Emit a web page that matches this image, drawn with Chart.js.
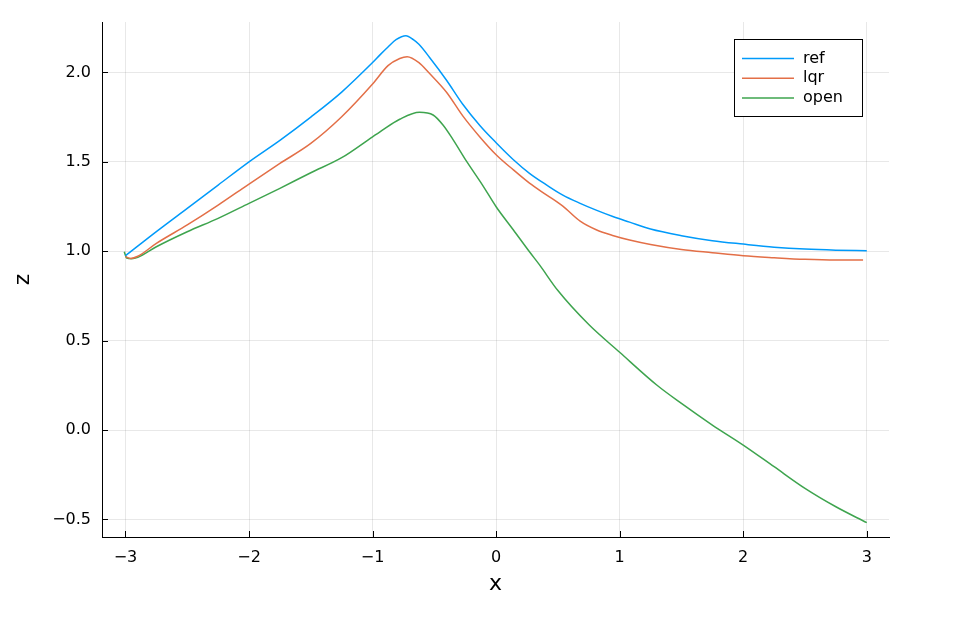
<!DOCTYPE html>
<html>
<head>
<meta charset="utf-8">
<script src="https://cdn.jsdelivr.net/npm/chart.js@4"></script>
<style>
html, body { margin: 0; padding: 0; background: #fff; }
</style>
</head>
<body>
<canvas id="plot" width="955" height="622"></canvas>
<script>
// series
const refX = [-3, -2.75, -2.5, -2.25, -2, -1.75, -1.5, -1.25, -1, -0.94, -0.875, -0.81, -0.73, -0.67, -0.625, -0.54, -0.4, -0.27, -0.13, 0, 0.14, 0.27, 0.41, 0.54, 0.68, 0.81, 0.95, 1.08, 1.25, 1.5, 1.75, 2, 2.25, 2.5, 2.75, 3];
const refY = [0.975, 1.11, 1.24, 1.37, 1.50, 1.62, 1.75, 1.89, 2.055, 2.098, 2.142, 2.183, 2.205, 2.183, 2.157, 2.085, 1.955, 1.822, 1.702, 1.607, 1.512, 1.436, 1.37, 1.314, 1.268, 1.23, 1.193, 1.163, 1.124, 1.087, 1.059, 1.040, 1.023, 1.012, 1.006, 1.003];

const lqrX = [-3, -2.96, -2.9, -2.75, -2.5, -2.25, -2, -1.75, -1.5, -1.25, -1, -0.875, -0.78, -0.72, -0.625, -0.54, -0.4, -0.27, -0.13, 0, 0.14, 0.27, 0.41, 0.54, 0.68, 0.81, 0.95, 1.08, 1.25, 1.5, 1.75, 2, 2.25, 2.5, 2.75, 2.97];
const lqrY = [0.97, 0.96, 0.972, 1.044, 1.147, 1.258, 1.376, 1.491, 1.603, 1.752, 1.935, 2.038, 2.078, 2.088, 2.055, 1.995, 1.888, 1.757, 1.638, 1.540, 1.455, 1.381, 1.314, 1.252, 1.168, 1.120, 1.087, 1.063, 1.038, 1.010, 0.992, 0.975, 0.964, 0.955, 0.951, 0.951];

const openX = [-3.01, -2.99, -2.95, -2.9, -2.75, -2.5, -2.25, -2, -1.75, -1.5, -1.25, -1, -0.94, -0.78, -0.62, -0.51, -0.43, -0.35, -0.24, -0.11, 0, 0.14, 0.27, 0.35, 0.5, 0.75, 1, 1.3, 1.5, 1.75, 2, 2.25, 2.5, 2.75, 3];
const openY = [0.997, 0.962, 0.958, 0.966, 1.025, 1.109, 1.184, 1.268, 1.352, 1.439, 1.523, 1.640, 1.668, 1.738, 1.777, 1.762, 1.706, 1.626, 1.504, 1.370, 1.249, 1.119, 0.997, 0.925, 0.78, 0.59, 0.435, 0.252, 0.149, 0.028, -0.084, -0.205, -0.326, -0.429, -0.518];

const seriesNames = ['ref', 'lqr', 'open'];
const seriesColors = ['#009AFA', '#E36F47', '#3EA44E'];

const xTicks = [-3, -2, -1, 0, 1, 2, 3];
const xTickLabels = ['\u22123', '\u22122', '\u22121', '0', '1', '2', '3'];
const yTicks = [-0.5, 0, 0.5, 1, 1.5, 2];
const yTickLabels = ['\u22120.5', '0.0', '0.5', '1.0', '1.5', '2.0'];

const FONT = 'DejaVu Sans';

function pts(xs, ys) {
    return xs.map((x, i) => ({ x: x, y: ys[i] }));
}

const allSeries = [pts(refX, refY), pts(lqrX, lqrY), pts(openX, openY)];

// small ticks pointing into the plot, like the GR backend
const innerTicks = {
    id: 'innerTicks',
    afterDatasetsDraw(chart) {
        const ctx = chart.ctx;
        const area = chart.chartArea;
        const xs = chart.scales.x, ys = chart.scales.y;
        ctx.save();
        ctx.strokeStyle = '#000';
        ctx.lineWidth = 1;
        ctx.beginPath();
        xTicks.forEach(v => {
            const px = Math.round(xs.getPixelForValue(v)) + 0.5;
            ctx.moveTo(px, area.bottom);
            ctx.lineTo(px, area.bottom - 6);
        });
        yTicks.forEach(v => {
            const py = Math.round(ys.getPixelForValue(v)) + 0.5;
            ctx.moveTo(area.left, py);
            ctx.lineTo(area.left + 6, py);
        });
        ctx.stroke();
        ctx.restore();
    }
};

// boxed legend in the top right corner of the plot
const boxLegend = {
    id: 'boxLegend',
    afterDraw(chart) {
        const ctx = chart.ctx;
        const area = chart.chartArea;
        const w = 128, h = 77;
        const x0 = area.right - 27 - w, y0 = area.top + 17;
        ctx.save();
        ctx.fillStyle = '#fff';
        ctx.fillRect(x0, y0, w, h);
        ctx.strokeStyle = '#000';
        ctx.lineWidth = 1;
        ctx.strokeRect(x0 + 0.5, y0 + 0.5, w, h);
        ctx.font = '16px "' + FONT + '"';
        ctx.textBaseline = 'middle';
        chart.data.datasets.forEach((ds, i) => {
            const cy = y0 + 19.5 + i * 19.7;
            ctx.strokeStyle = ds.borderColor;
            ctx.lineWidth = 1.5;
            ctx.beginPath();
            ctx.moveTo(x0 + 8, cy);
            ctx.lineTo(x0 + 60, cy);
            ctx.stroke();
            ctx.fillStyle = '#000';
            ctx.fillText(ds.label, x0 + 69, cy);
        });
        ctx.restore();
    }
};

const ctx = document.getElementById('plot').getContext('2d');
const plot = new Chart(ctx, {
    type: 'line',
    data: {
        datasets: seriesNames.map((name, i) => ({
            label: name,
            data: allSeries[i],
            borderColor: seriesColors[i],
            backgroundColor: seriesColors[i],
            borderWidth: 1.5,
            pointRadius: 0,
            fill: false,
            cubicInterpolationMode: 'monotone'
        }))
    },
    options: {
        responsive: false,
        animation: false,
        layout: { padding: { top: 22, right: 66, left: 0, bottom: 0 } },
        plugins: {
            legend: { display: false },
            tooltip: { enabled: false }
        },
        scales: {
            x: {
                type: 'linear',
                min: -3.19,
                max: 3.18,
                afterBuildTicks: s => { s.ticks = xTicks.map(v => ({ value: v })); },
                afterFit: s => { s.height = 85; },
                ticks: {
                    callback: (v, i) => xTickLabels[i],
                    font: { family: FONT, size: 16 },
                    color: '#000',
                    padding: 11,
                    maxRotation: 0,
                    autoSkip: false
                },
                grid: { color: 'rgba(0,0,0,0.09)', lineWidth: 1, drawTicks: false },
                border: { display: true, color: '#000', width: 1 },
                title: {
                    display: true,
                    text: 'x',
                    font: { family: FONT, size: 22 },
                    color: '#000',
                    padding: { top: 0, bottom: 25 }
                }
            },
            y: {
                type: 'linear',
                min: -0.598,
                max: 2.282,
                afterBuildTicks: s => { s.ticks = yTicks.map(v => ({ value: v })); },
                afterFit: s => { s.width = 102; },
                ticks: {
                    callback: (v, i) => yTickLabels[i],
                    font: { family: FONT, size: 16 },
                    color: '#000',
                    padding: 11,
                    autoSkip: false
                },
                grid: { color: 'rgba(0,0,0,0.09)', lineWidth: 1, drawTicks: false },
                border: { display: true, color: '#000', width: 1 },
                title: {
                    display: true,
                    text: 'z',
                    font: { family: FONT, size: 22 },
                    color: '#000',
                    padding: { top: 10, bottom: 0 }
                }
            }
        }
    },
    plugins: [innerTicks, boxLegend]
});
</script>
</body>
</html>
